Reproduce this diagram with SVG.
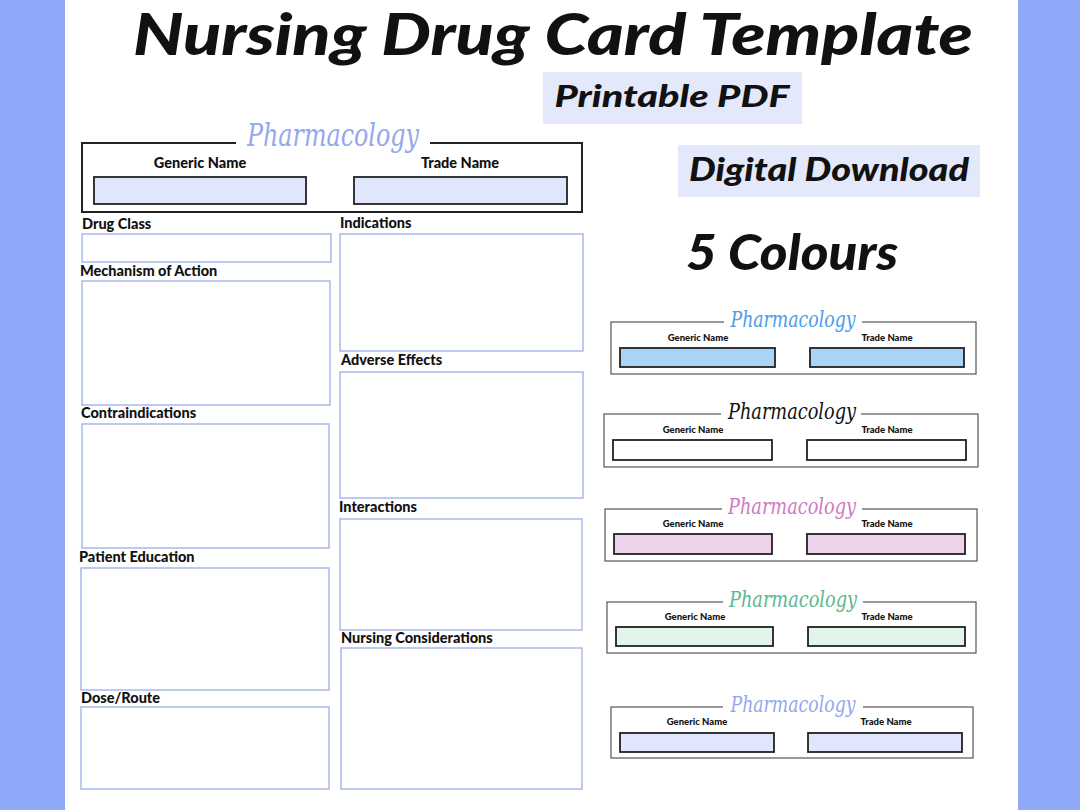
<svg xmlns="http://www.w3.org/2000/svg" width="1080" height="810" viewBox="0 0 1080 810">
<style>
.lbl{font-family:"Lato","Liberation Sans",sans-serif;font-weight:900;font-size:14.5px;fill:#111}
.sl{font-family:"Lato","Liberation Sans",sans-serif;font-weight:900;font-size:9.5px;fill:#111;text-anchor:middle}
.fld{fill:#fff;stroke:#a9b8ee;stroke-width:1.5}
.ph{font-family:"DejaVu Serif","Liberation Serif",serif;font-style:italic;text-anchor:middle}
.hd{font-family:"Lato","Liberation Sans",sans-serif;font-weight:900;font-style:italic;fill:#111}
.card{fill:#fff;stroke:#555;stroke-width:1.2}
.nb{stroke:#222;stroke-width:1.8}
</style>
<rect width="1080" height="810" fill="#8fa8f8"/>
<rect x="65" y="0" width="953" height="810" fill="#fff"/>
<g id="header">
<text class="hd" x="553" y="55" font-size="58" text-anchor="middle" textLength="840" lengthAdjust="spacingAndGlyphs">Nursing Drug Card Template</text>
<rect x="543" y="72" width="259" height="52" fill="#e3e8fb"/>
<text class="hd" x="672" y="107" font-size="31" text-anchor="middle" textLength="235" lengthAdjust="spacingAndGlyphs">Printable PDF</text>
<rect x="678" y="145" width="302" height="52" fill="#e3e8fb"/>
<text class="hd" x="829" y="181" font-size="33" text-anchor="middle" textLength="280" lengthAdjust="spacingAndGlyphs">Digital Download</text>
<text class="hd" x="686" y="270" font-size="50" textLength="212" lengthAdjust="spacingAndGlyphs">5 Colours</text>
</g>
<g id="main-card">
<rect x="82" y="143" width="500" height="69" fill="#fff" stroke="#222" stroke-width="2"/>
<rect x="236" y="128" width="194" height="26" fill="#fff"/>
<text class="ph" x="333" y="146" font-size="31" fill="#93a8ee" textLength="172" lengthAdjust="spacingAndGlyphs">Pharmacology</text>
<text class="lbl" x="200" y="168" text-anchor="middle" font-size="13">Generic Name</text>
<text class="lbl" x="460" y="168" text-anchor="middle" font-size="13">Trade Name</text>
<rect class="nb" x="94" y="177" width="212" height="27" fill="#e0e6fb"/>
<rect class="nb" x="354" y="177" width="213" height="27" fill="#e0e6fb"/>
</g>
<g id="fields">
<text class="lbl" x="82" y="229">Drug Class</text><rect class="fld" x="82" y="234" width="249" height="28"/>
<text class="lbl" x="80" y="276">Mechanism of Action</text><rect class="fld" x="82" y="281" width="248" height="124"/>
<text class="lbl" x="81" y="418">Contraindications</text><rect class="fld" x="82" y="424" width="247" height="124"/>
<text class="lbl" x="79" y="562">Patient Education</text><rect class="fld" x="81" y="568" width="248" height="122"/>
<text class="lbl" x="81" y="703">Dose/Route</text><rect class="fld" x="81" y="707" width="248" height="82"/>
<text class="lbl" x="340" y="228">Indications</text><rect class="fld" x="340" y="234" width="243" height="117"/>
<text class="lbl" x="341" y="365">Adverse Effects</text><rect class="fld" x="340" y="372" width="243" height="126"/>
<text class="lbl" x="339" y="512">Interactions</text><rect class="fld" x="340" y="519" width="242" height="111"/>
<text class="lbl" x="341" y="643">Nursing Considerations</text><rect class="fld" x="341" y="648" width="241" height="141"/>
</g>
<g id="card-blue">
<rect class="card" x="611" y="322" width="365" height="52"/>
<rect x="724" y="310" width="138" height="20" fill="#fff"/>
<text class="ph" x="793" y="327" font-size="22" fill="#4a9de8" textLength="125" lengthAdjust="spacingAndGlyphs">Pharmacology</text>
<text class="sl" x="698" y="341">Generic Name</text><text class="sl" x="887" y="341">Trade Name</text>
<rect class="nb" x="620" y="348" width="155" height="19" fill="#a9d3f7"/><rect class="nb" x="810" y="348" width="154" height="19" fill="#a9d3f7"/>
</g>
<g id="card-black">
<rect class="card" x="604" y="414" width="374" height="53"/>
<rect x="721" y="402" width="140" height="20" fill="#fff"/>
<text class="ph" x="792" y="419" font-size="22" fill="#111" textLength="128" lengthAdjust="spacingAndGlyphs">Pharmacology</text>
<text class="sl" x="693" y="433">Generic Name</text><text class="sl" x="887" y="433">Trade Name</text>
<rect class="nb" x="613" y="440" width="159" height="20" fill="#fff"/><rect class="nb" x="807" y="440" width="159" height="20" fill="#fff"/>
</g>
<g id="card-pink">
<rect class="card" x="605" y="509" width="372" height="52"/>
<rect x="722" y="497" width="140" height="20" fill="#fff"/>
<text class="ph" x="792" y="514" font-size="22" fill="#d07ac0" textLength="128" lengthAdjust="spacingAndGlyphs">Pharmacology</text>
<text class="sl" x="693" y="527">Generic Name</text><text class="sl" x="887" y="527">Trade Name</text>
<rect class="nb" x="614" y="534" width="158" height="20" fill="#ecd3ea"/><rect class="nb" x="807" y="534" width="158" height="20" fill="#ecd3ea"/>
</g>
<g id="card-green">
<rect class="card" x="607" y="602" width="369" height="51"/>
<rect x="723" y="590" width="140" height="20" fill="#fff"/>
<text class="ph" x="793" y="607" font-size="22" fill="#5cb890" textLength="128" lengthAdjust="spacingAndGlyphs">Pharmacology</text>
<text class="sl" x="695" y="620">Generic Name</text><text class="sl" x="887" y="620">Trade Name</text>
<rect class="nb" x="616" y="627" width="157" height="19" fill="#e1f5ea"/><rect class="nb" x="808" y="627" width="157" height="19" fill="#e1f5ea"/>
</g>
<g id="card-lavender">
<rect class="card" x="611" y="707" width="362" height="51"/>
<rect x="723" y="695" width="140" height="20" fill="#fff"/>
<text class="ph" x="793" y="712" font-size="22" fill="#93a8ee" textLength="125" lengthAdjust="spacingAndGlyphs">Pharmacology</text>
<text class="sl" x="697" y="725">Generic Name</text><text class="sl" x="886" y="725">Trade Name</text>
<rect class="nb" x="620" y="733" width="154" height="19" fill="#e0e6fb"/><rect class="nb" x="808" y="733" width="154" height="19" fill="#e0e6fb"/>
</g>
<g id="connectors"/>
</svg>
